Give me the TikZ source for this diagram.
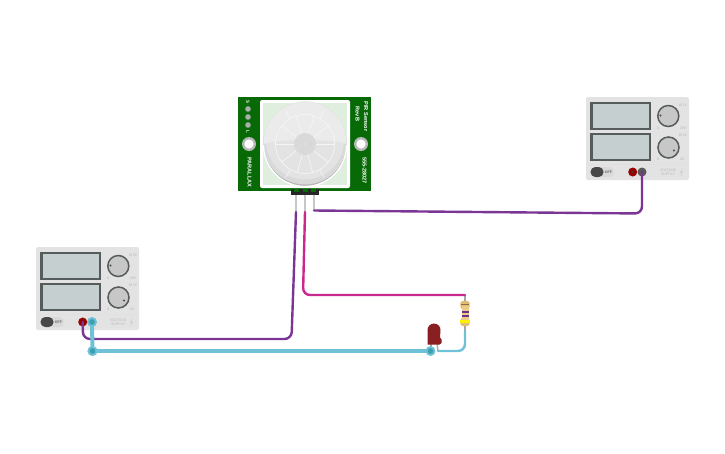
\documentclass[tikz,border=0pt]{standalone}
\usepackage{fontspec}
\setmainfont{Liberation Sans}
\definecolor{boardgreen}{HTML}{076A07}
\definecolor{lenslight}{HTML}{EBEBEB}
\definecolor{lensdark}{HTML}{E3E3E3}
\definecolor{lenshub}{HTML}{D9D9D9}
\definecolor{lensline}{HTML}{F5F5F5}
\definecolor{psubody}{HTML}{E3E3E3}
\definecolor{psuscreen}{HTML}{C5CFD0}
\definecolor{psuframe}{HTML}{565B5B}
\definecolor{wirepurple}{HTML}{7B3594}
\definecolor{wiremagenta}{HTML}{C9288E}
\definecolor{wireteal}{HTML}{6FC1D8}
\definecolor{termteal}{HTML}{3E9FB0}
\definecolor{ledred}{HTML}{8A1F22}
\definecolor{restan}{HTML}{E3BC74}
\definecolor{resmid}{HTML}{E8CB88}
\definecolor{cardtint}{HTML}{DFEEDF}
\tikzset{
  wire/.style={line width=2.4pt,rounded corners=7pt,line cap=round},
  bus/.style={wire,line width=4pt,color=wireteal},
  lead/.style={line width=2pt,color=black!22},
  junction/.style={circle,draw=wireteal,line width=1.8pt,fill=termteal,minimum size=8pt,inner sep=0pt},
  terminal/.style={circle,minimum size=9pt,inner sep=0pt},
  tiny/.style={font=\fontsize{3.6}{4}\selectfont,inner sep=0pt},
  silk/.style={tiny,text=white,font=\fontsize{5.6}{6}\selectfont\bfseries},
  ghost/.style={tiny,text=black!28},
  screen/.style={draw=psuframe,fill=psuscreen,line width=2.2pt},
  knob/.style={circle,draw=psuframe,fill=black!22,line width=1.5pt,minimum size=21pt,inner sep=0pt},
  supply/.pic={
    \fill[psubody,rounded corners=2pt] (0,0) rectangle (103,83);
    \draw[black!12,line width=.5pt] (0,67) -- (103,67);
    \draw[screen] (5.5,6) rectangle (64,32);
    \draw[screen] (5.5,37) rectangle (64,63);
    \node[knob] (-knoba) at (82.3,19) {};
    \node[knob] (-knobb) at (82.5,50.5) {};
    \fill[black!70] (74.5,18.5) circle (1.1pt);
    \fill[black!70] (88,53.5) circle (1.1pt);
    \node[ghost] at (97,8) {\O{} 16};
    \node[ghost] at (97,38.5) {\O{} 16};
    \node[ghost] at (72,31) {0};
    \node[ghost] at (97,31) {20V};
    \node[ghost] at (72,62.5) {0};
    \node[ghost] at (96,62.5) {5A};
    \fill[black!15,rounded corners=4.8pt] (4.5,70) rectangle (28,80);
    \fill[black!72,rounded corners=4.8pt] (4.5,70) rectangle (17.5,80);
    \node[tiny,text=black!60,font=\fontsize{3.6}{4}\selectfont\bfseries] at (22.5,75.3) {OFF};
    \node[terminal,fill=red!60!black] (-red) at (46.7,75) {};
    \node[terminal,fill=black!65] (-black) at (56,75) {};
    \fill[black!75] (46.7,75) circle (1pt);
    \fill[black!85] (56,75) circle (1pt);
    \node[ghost,align=center] at (82,75) {VOLTAGE\\SUPPLY};
    \fill[black!18] (96.5,71) -- (93.5,76) -- (95.5,76) -- (94,80) -- (97.5,74.5) -- (95.5,74.5) -- cycle;
  }
}
\begin{document}
\begin{tikzpicture}[x=1pt,y=-1pt]
\useasboundingbox (0,0) rectangle (725,453);

% power supplies
\pic (psur) at (586,97) {supply};
\pic (psul) at (36,247) {supply};

% pir board
\fill[boardgreen] (238,97) rectangle (371,191);
\fill[white,rounded corners=2pt] (260,100) rectangle (350,188);
\fill[cardtint] (263,103) rectangle (347,185);
\foreach \y in {109,117,125} \fill[black!32] (248,\y) circle (2.8pt);
\foreach \x in {249,361} {
  \fill[black!28] (\x,144) circle (7pt);
  \fill[white] (\x,144) circle (4.6pt);
}
\node[silk,font=\fontsize{4.4}{5}\selectfont\bfseries,rotate=-90] (pins) at (248,102) {S};
\node[silk,font=\fontsize{4.4}{5}\selectfont\bfseries,rotate=-90] (pinl) at (248,131.5) {L};
\node[silk,rotate=-90] (brand) at (249.5,172.5) {PARALLAX};
\node[silk,rotate=-90] (title) at (366,116.5) {PIR Sensor};
\node[silk,rotate=-90] (rev) at (357.5,114) {Rev B};
\node[silk,rotate=-90] (partno) at (364.5,170.5) {555-28027};

% lens
\coordinate (lc) at (305,144);
\fill[black!28] (305,144.5) circle (41.7pt);
\fill[black!15] (305,143) circle (41.4pt);
\fill[lensdark] (305,140.5) circle (39pt);
\begin{scope}
\clip (305,143.7) circle (41.7pt);
\fill[lenslight] (263,100) -- (347,100) -- (347,145) arc[x radius=42,y radius=5,start angle=0,end angle=-180] -- cycle;
\end{scope}
\draw[white,line width=1.3pt] (263.5,145) arc[radius=41.5,start angle=180,end angle=0];
\draw[lensline,line width=.7pt] (lc) circle (29.5pt);
\foreach \a in {0,38,75,105,142,180,218,252,288,322}
  \draw[lensline,line width=.7pt] (lc) ++(\a:11) -- ++(\a:18.5);
\foreach \a in {60,120,240,300}
  \draw[lensline,line width=.7pt] (lc) ++(\a:29.5) -- ++(\a:9);
\fill[lenshub] (lc) circle (11pt);
\fill[white] (lc) circle (.6pt);

% header and pins
\fill[black!85] (290.5,189) rectangle (319,195);
\fill[boardgreen] (294,189) rectangle (299,191.5);
\fill[boardgreen] (303,189) rectangle (308,191.5);
\fill[boardgreen] (311,189) rectangle (316,191.5);
\coordinate (pin1) at (296,212);
\coordinate (pin2) at (305,212);
\coordinate (pin3) at (314,210.5);
\draw[lead] (296,195) -- (pin1);
\draw[lead] (305,195) -- (pin2);
\draw[lead] (314,195) -- (pin3);

% resistor
\coordinate (rtop) at (465,295);
\coordinate (rbot) at (465,331);
\draw[line width=1.6pt,black!35] (rtop) -- (rbot);
\fill[restan,rounded corners=2.5pt] (460.3,301) rectangle (469.7,309);
\fill[restan,rounded corners=2.5pt] (460.3,318) rectangle (469.7,326);
\fill[resmid] (461.5,306) rectangle (468.5,320);
\fill[black!40!restan] (460.6,304) rectangle (469.4,305);
\fill[wirepurple!90!black] (461.5,310.8) rectangle (468.5,313);
\fill[wirepurple!90!black] (461.5,314.8) rectangle (468.5,317);
\fill[yellow] (460.3,319.5) rectangle (469.7,323);

% led
\coordinate (ledk) at (438,351);
\coordinate (ledb) at (431,351);
\draw[line width=1.4pt,black!35] (437,343) -- (ledk);
\draw[line width=1.4pt,black!35] (431,343) -- (ledb);
\fill[ledred] (427.5,344.5) -- (427.5,330) arc[start angle=180,end angle=360,radius=6.5] -- (440,337.5) -- (441.5,339.5) -- (441.5,343) -- (439.5,344.5) -- cycle;

% wires
\coordinate (ra) at (642,213.5);
\coordinate (la) at (291.5,339);
\coordinate (lb) at (83,339);
\coordinate (ma) at (303,295);
\coordinate (ta) at (465,351);
\draw[wire,wirepurple] (psur-black.center) -- (ra) -- (pin3);
\draw[wire,wirepurple] (pin1) -- (la) -- (lb) -- (psul-red.center);
\draw[wire,wiremagenta] (pin2) -- (ma) -- (rtop);
\draw[wire,wireteal] (rbot) -- (ta) -- (ledk);

\node[junction] (ja) at (92.5,351) {};
\node[junction] (jb) at (430.5,351) {};
\draw[bus] (ja) -- (jb);
\draw[bus] (psul-black) -- (ja);
\node[junction] at (psul-black.center) {};
\node[junction] at (ja.center) {};
\end{tikzpicture}
\end{document}
